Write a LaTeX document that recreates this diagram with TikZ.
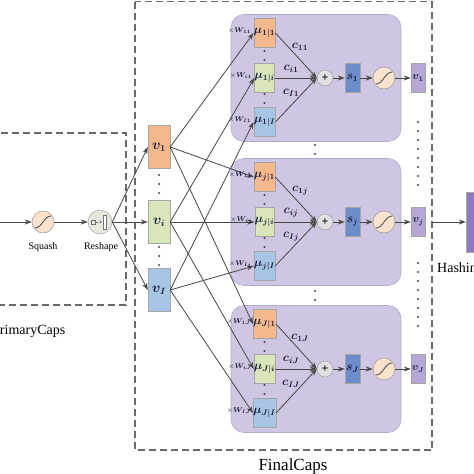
\documentclass[tikz,border=0pt]{standalone}
\usepackage{amsmath}
\usepackage{fontspec}
\setmainfont{Liberation Serif}
\usetikzlibrary{arrows.meta}
\definecolor{capsink}{HTML}{474747}
\definecolor{capstext}{HTML}{1C1F3A}
\definecolor{capsdash}{HTML}{6A6A6A}
\definecolor{capsorange}{HTML}{F5B88C}
\definecolor{capsgreen}{HTML}{D8E6B9}
\definecolor{capsblue}{HTML}{A7C6E6}
\definecolor{capslilac}{HTML}{CEC6E2}
\definecolor{capsedge}{HTML}{B3ABCB}
\definecolor{capssum}{HTML}{6C8CCB}
\definecolor{capsout}{HTML}{B6A8D6}
\definecolor{capshash}{HTML}{8E79C2}
\definecolor{capspeach}{HTML}{FBE2CC}
\definecolor{capsgrey}{HTML}{E6E8DD}

\begin{document}
\begin{tikzpicture}[
  x=1pt, y=-1pt,
  font=\fontsize{10}{12}\selectfont,
  frame/.style={draw=capsdash, line width=1.1pt, dash pattern=on 7pt off 4pt},
  block/.style={
    draw=capsedge, fill=capslilac, line width=0.6pt, rounded corners=13pt,
    minimum width=170pt, minimum height=127pt, inner sep=0pt
  },
  cell/.style={draw=black!35, line width=0.4pt, inner sep=0pt, text=capstext},
  mubox/.style={cell, minimum width=15pt, minimum height=29pt, font=\fontsize{11.5}{12}\selectfont},
  vbox/.style={cell, minimum width=22pt, minimum height=43pt, font=\fontsize{13.5}{14}\selectfont},
  sbox/.style={cell, fill=capssum, minimum width=15pt, minimum height=29pt, font=\fontsize{11.5}{12}\selectfont},
  obox/.style={cell, fill=capsout, minimum width=14pt, minimum height=29pt, font=\fontsize{10.5}{11}\selectfont},
  hashbox/.style={cell, fill=capshash, minimum width=30pt, minimum height=60pt},
  squash/.style={
    circle, draw=black!40, fill=capspeach, line width=0.5pt, minimum size=22pt, inner sep=0pt,
    path picture={\draw[capsink, line width=0.8pt, shift={(path picture bounding box.center)}]
      (-8pt,-6pt) .. controls (-1pt,-6pt) and (1pt,6pt) .. (8pt,6pt);}
  },
  reshape/.style={
    circle, draw=black!35, fill=capsgrey, line width=0.5pt, minimum size=24pt, inner sep=0pt,
    path picture={
      \draw[black!55, line width=0.5pt, shift={(path picture bounding box.center)}]
        (-9pt,-2pt) rectangle (-5pt,2pt);
      \draw[black!55, line width=0.5pt, densely dashed, -{Stealth[length=2.5pt,width=2.5pt]},
        shift={(path picture bounding box.center)}] (-5pt,0pt) -- (2pt,0pt);
      \draw[black!55, fill=white, line width=0.5pt, shift={(path picture bounding box.center)}]
        (3pt,-7pt) rectangle (6pt,7pt);}
  },
  plusnode/.style={circle, draw=black!40, fill=black!12, minimum size=16pt, inner sep=0pt,
    font=\bfseries\fontsize{12}{12}\selectfont},
  flow/.style={draw=capsink, line width=0.8pt, -{Stealth[length=7pt,width=5pt]}},
  clab/.style={font=\fontsize{11.5}{12}\selectfont, inner sep=0pt, text=capstext},
  wlab/.style={font=\fontsize{7}{8}\selectfont, inner sep=0pt, anchor=east, xshift=-2pt, yshift=2pt, text=capstext},
  caption/.style={font=\fontsize{14}{16}\selectfont, inner sep=0pt},
]
\useasboundingbox (0,0) rectangle (474,474);

% ---- dashed frames ----
\draw[frame] (135,1.5) rectangle (432,450);
\draw[frame] (-10,133) -- (126,133) -- (126,305) -- (-10,305);

\node[caption] (lprim) at (-8,331) [anchor=west] {PrimaryCaps};
\node[caption, font=\fontsize{17}{19}\selectfont] (lfin) at (293,466) {FinalCaps};
\node[caption] (lhash) at (437,269) [anchor=west] {Hashing};

% ---- primary capsules ----
\coordinate (in) at (0,222);
\node[squash]  (sqp)  at (43,222) {};
\node[reshape] (resh) at (100,222) {};
\node (lsq) at (43,247) {Squash};
\node (lre) at (101,247) {Reshape};

\draw[flow] (in) -- (sqp);
\draw[flow] (sqp) -- (resh);

% ---- input vectors ----
\node[vbox, fill=capsorange] (va) at (159,147) {$\boldsymbol{v_1}$};
\node[vbox, fill=capsgreen]  (vb) at (159,222) {$\boldsymbol{v_i}$};
\node[vbox, fill=capsblue]   (vc) at (159,290) {$\boldsymbol{v_I}$};
\foreach \y in {175,184,193,247,256,265}{
  \fill[capsink] (159,\y) circle (1.2pt);
}

\draw[flow] (resh.east) -- (va.west);
\draw[flow] (resh.east) -- (vb.west);
\draw[flow] (resh.east) -- (vc.west);

% ---- output capsule blocks ----
\foreach \b/\yc/\jj in {1/78/1, 2/222/j, 3/369/J}{
  \node[block] (blk\b) at (316,\yc) {};
  \node[mubox, fill=capsorange] (mua\b) at (264.5,\yc-45) {$\boldsymbol{\mu_{\jj|1}}$};
  \node[mubox, fill=capsgreen]  (mub\b) at (264.5,\yc)    {$\boldsymbol{\mu_{\jj|i}}$};
  \node[mubox, fill=capsblue]   (muc\b) at (264.5,\yc+44) {$\boldsymbol{\mu_{\jj|I}}$};
  \foreach \d in {-27,-18,16,25}{
    \fill[capsink] (264.5,\yc+\d) circle (1.2pt);
  }
  \node[plusnode] (plus\b) at (325,\yc) {+};
  \node[sbox]     (s\b)    at (352.5,\yc) {$\boldsymbol{s_{\jj}}$};
  \node[squash]   (sq\b)   at (384,\yc) {};
  \node[obox]     (vo\b)   at (418,\yc) {$\boldsymbol{v_{\jj}}$};

  \draw[flow] (mua\b.east) -- (plus\b.west);
  \draw[flow] (mub\b.east) -- (plus\b.west);
  \draw[flow] (muc\b.east) -- (plus\b.west);
  \node[clab] (ca\b) at (300,\yc-31) {$\boldsymbol{c_{1\jj}}$};
  \node[clab] (cb\b) at (291,\yc-9)  {$\boldsymbol{c_{i\jj}}$};
  \node[clab] (cc\b) at (291,\yc+15) {$\boldsymbol{c_{I\jj}}$};

  \draw[flow] (plus\b) -- (s\b);
  \draw[flow] (s\b) -- (sq\b);
  \draw[flow] (sq\b) -- (vo\b);
}

% dots between blocks and between outputs
\foreach \y in {145,154,291,300}{
  \fill[capsink] (315,\y) circle (1.2pt);
}
\foreach \y in {122,131,140,149,158,167,176,185,263,272,281,290,299,308,317,326}{
  \fill[capsink] (418,\y) circle (1.2pt);
}

% ---- prediction arrows ----
\foreach \b/\jj in {1/1, 2/j, 3/J}{
  \draw[flow] (va.east) -- (mua\b.west) node[wlab] (wa\b) {$\times\boldsymbol{W_{1\jj}}$};
  \draw[flow] (vb.east) -- (mub\b.west) node[wlab] (wb\b) {$\times\boldsymbol{W_{i\jj}}$};
  \draw[flow] (vc.east) -- (muc\b.west) node[wlab] (wc\b) {$\times\boldsymbol{W_{I\jj}}$};
}

% ---- hashing ----
\coordinate (hin) at (433,222);
\node[hashbox] (hash) at (481,222) {};
\draw[flow] (hin) -- (hash.west);

\end{tikzpicture}
\end{document}
